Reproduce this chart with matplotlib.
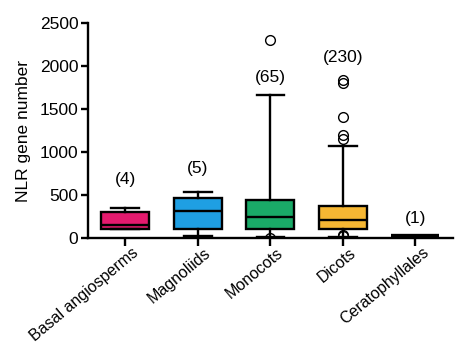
import matplotlib
matplotlib.use("Agg")
import matplotlib.pyplot as plt

plt.rcParams['font.family'] = ['Liberation Sans', 'DejaVu Sans']

groups = ['Basal angiosperms', 'Magnoliids', 'Monocots', 'Dicots', 'Ceratophyllales']
counts = ['(4)', '(5)', '(65)', '(230)', '(1)']
colors = ['#e31a6e', '#1f9fe3', '#1aaa68', '#f6b733', '#222222']

# box stats
whislo = [100, 20, 12, 15, 25]
q1 = [105, 100, 100, 100, 25]
med = [150, 320, 250, 210, 25]
q3 = [300, 460, 445, 375, 25]
whishi = [345, 540, 1665, 1075, 25]
fliers = [[], [], [2300, 5], [1150, 1200, 1410, 1800, 1840, 20, 40], []]
count_y = [680, 810, 1870, 2100, 230]

stats = []
for i in range(len(groups)):
    stats.append(dict(whislo=whislo[i], q1=q1[i], med=med[i], q3=q3[i],
                      whishi=whishi[i], fliers=fliers[i], label=groups[i]))

fig = plt.figure(figsize=(4.74, 3.49), dpi=100)
ax = fig.add_axes([0.186, 0.318, 0.77, 0.616])

lw = 1.7
bp = ax.bxp(stats, positions=range(1, 6), widths=0.66, patch_artist=True,
            showfliers=True,
            boxprops=dict(linewidth=lw, edgecolor='black'),
            medianprops=dict(color='black', linewidth=lw),
            whiskerprops=dict(color='black', linewidth=lw),
            capprops=dict(color='black', linewidth=lw),
            capwidths=0.38,
            flierprops=dict(marker='o', markersize=7, markerfacecolor='none',
                            markeredgecolor='black', markeredgewidth=1.0))
for patch, c in zip(bp['boxes'], colors):
    patch.set_facecolor(c)
# single-value group drawn as a thick flat bar
bp['boxes'][4].set_linewidth(3)
bp['medians'][4].set_linewidth(3)

for i, t in enumerate(counts):
    ax.text(i + 1, count_y[i], t, ha='center', va='center', fontsize=12.5)

ax.set_xlim(0.49, 5.52)
ax.set_ylim(0, 2500)
ax.set_yticks([0, 500, 1000, 1500, 2000, 2500])
ax.set_ylabel('NLR gene number', fontsize=12.5, labelpad=6)
ax.set_xticks(range(1, 6))
ax.set_xticklabels([])
# category labels, slanted, ending just right of each tick
for i, g in enumerate(groups):
    ax.annotate(g, xy=(i + 1, 0), xycoords=('data', 'axes fraction'),
                xytext=(8, -9), textcoords='offset points',
                rotation=40, rotation_mode='anchor', ha='right', va='center',
                fontsize=11.5)
ax.tick_params(axis='y', labelsize=12.5, width=lw, length=5, direction='out', pad=2)
ax.tick_params(axis='x', width=lw, length=6, direction='out')
ax.spines['top'].set_visible(False)
ax.spines['right'].set_visible(False)
ax.spines['left'].set_linewidth(lw)
ax.spines['bottom'].set_linewidth(lw)

fig.savefig('out.png', dpi=100)
